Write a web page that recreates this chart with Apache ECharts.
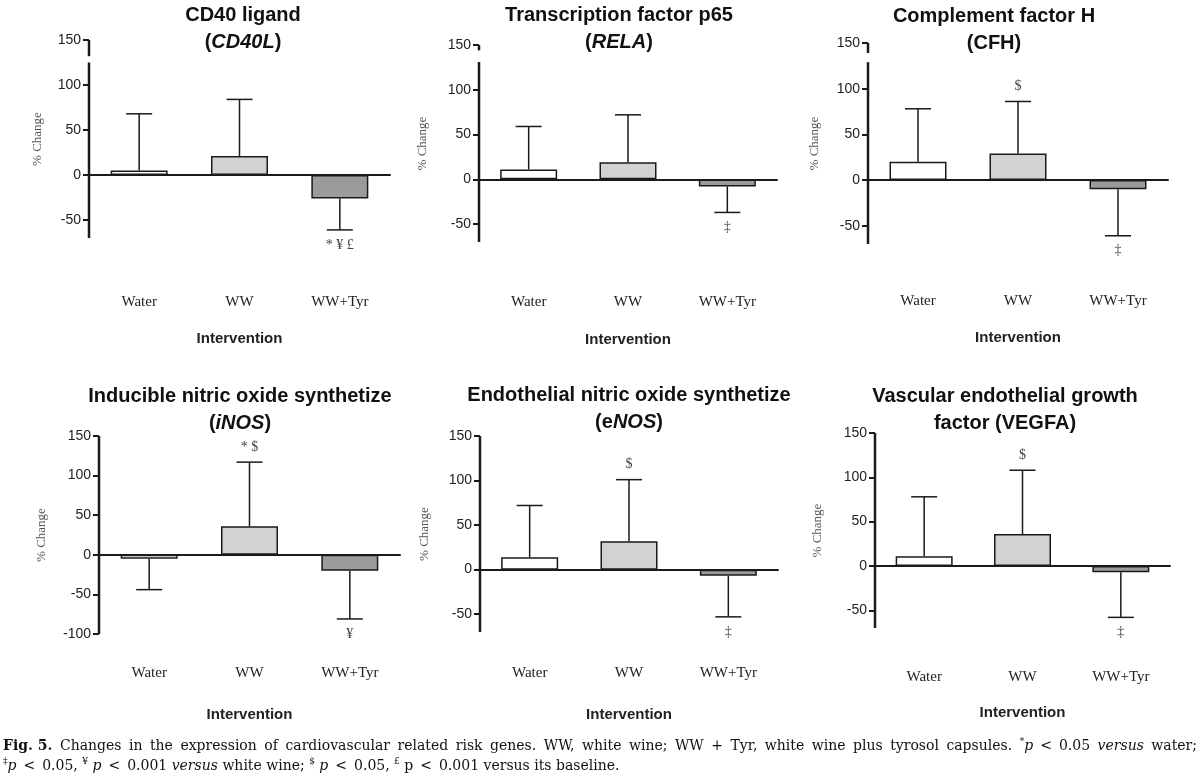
<!DOCTYPE html>
<html>
<head>
<meta charset="utf-8">
<title>Fig. 5</title>
<script src="https://cdn.jsdelivr.net/npm/echarts@6/dist/echarts.min.js"></script>
<style>
  html, body { margin: 0; padding: 0; background: #fff; }
  #chart { width: 1200px; height: 784px; }
</style>
</head>
<body>
<div id="chart"></div>
<script>
const groups = ['Water', 'WW', 'WW+Tyr']

// mean % change and the end of the one-sided error bar (Water, WW, WW+Tyr)
const cd40lMean = [5, 21, -26]
const cd40lErr = [68, 84, -61]
const cd40lNote = ['', '', '* ¥ £']

const relaMean = [11, 19, -8]
const relaErr = [59, 72, -37]
const relaNote = ['', '', '‡']

const cfhMean = [20, 29, -10]
const cfhErr = [78, 86, -61]
const cfhNote = ['', '$', '‡']

const inosMean = [-5, 36, -20]
const inosErr = [-44, 117, -81]
const inosNote = ['', '* $', '¥']

const enosMean = [14, 32, -7]
const enosErr = [72, 101, -53]
const enosNote = ['', '$', '‡']

const vegfaMean = [11, 36, -7]
const vegfaErr = [78, 108, -58]
const vegfaNote = ['', '$', '‡']

const ticksTop = [-50, 0, 50, 100, 150]
const ticksInos = [-100, -50, 0, 50, 100, 150]

const captionLine1 = '{b|Fig.\u00a05.} Changes in the expression of cardiovascular related risk genes. WW, white wine; WW + Tyr, white wine plus tyrosol capsules. {s|*}{i|p}\u2002<\u20020.05 {i|versus} water;'
const captionLine2 = '{s|‡}{i|p}\u2002<\u20020.05, {s|¥} {i|p}\u2002<\u20020.001 {i|versus} white wine; {s|$} {i|p}\u2002<\u20020.05, {s|£} p\u2002<\u20020.001 versus its baseline.'

const panels = [
  { title: 'CD40 ligand\n({i|CD40L})', mean: cd40lMean, err: cd40lErr, note: cd40lNote, min: -70, ticks: ticksTop, axisParts: [[-70, 125], [132, 150]] },
  { title: 'Transcription factor p65\n({i|RELA})', mean: relaMean, err: relaErr, note: relaNote, min: -70, ticks: ticksTop, axisParts: [[-70, 131], [144, 150]] },
  { title: 'Complement factor H\n(CFH)', mean: cfhMean, err: cfhErr, note: cfhNote, min: -70, ticks: ticksTop, axisParts: [[-70, 129], [139, 150]] },
  { title: 'Inducible nitric oxide synthetize\n({i|iNOS})', mean: inosMean, err: inosErr, note: inosNote, min: -100, ticks: ticksInos, axisParts: [[-100, 150]] },
  { title: 'Endothelial nitric oxide synthetize\n(e{i|NOS})', mean: enosMean, err: enosErr, note: enosNote, min: -70, ticks: ticksTop, axisParts: [[-70, 150]] },
  { title: 'Vascular endothelial growth\nfactor (VEGFA)', mean: vegfaMean, err: vegfaErr, note: vegfaNote, min: -70, ticks: ticksTop, axisParts: [[-70, 150]] }
]

const layout = [
  { left: 89, top: 40, width: 301, height: 198, titleX: 243, titleY: 15, labelMargin: 57, nameGap: 93, yNameGap: 45 },
  { left: 479, top: 45, width: 298, height: 197, titleX: 619, titleY: 15, labelMargin: 53, nameGap: 90, yNameGap: 50 },
  { left: 868, top: 43, width: 300, height: 201, titleX: 994, titleY: 16, labelMargin: 50, nameGap: 86, yNameGap: 47 },
  { left: 99, top: 436, width: 301, height: 198, titleX: 240, titleY: 396, labelMargin: 32, nameGap: 73, yNameGap: 51 },
  { left: 480, top: 436, width: 298, height: 196, titleX: 629, titleY: 395, labelMargin: 34, nameGap: 75, yNameGap: 49 },
  { left: 875, top: 433, width: 295, height: 195, titleX: 1005, titleY: 396, labelMargin: 42, nameGap: 77, yNameGap: 51 }
]

const barColors = ['#ffffff', '#d2d2d2', '#9b9b9b']
const ink = '#1a1a1a'
const sans = 'Liberation Sans'
const serif = 'Liberation Serif'
const captionFont = 'DejaVu Serif'

function renderAxisLine(params, api) {
  const x = params.coordSys.x
  const a = api.coord([0, api.value(0)])
  const b = api.coord([0, api.value(1)])
  return {
    type: 'line',
    shape: { x1: x, y1: a[1], x2: x, y2: b[1] },
    style: { stroke: ink, lineWidth: 2.5 }
  }
}

function makeErrorBar(notes) {
  return function (params, api) {
    const i = api.value(0)
    const base = api.coord([i, api.value(1)])
    const end = api.coord([i, api.value(2)])
    const dir = end[1] < base[1] ? -1 : 1
    const line = { stroke: ink, lineWidth: 1.5 }
    const children = [
      { type: 'line', shape: { x1: base[0], y1: base[1], x2: end[0], y2: end[1] }, style: line },
      { type: 'line', shape: { x1: end[0] - 13, y1: end[1], x2: end[0] + 13, y2: end[1] }, style: line }
    ]
    const note = notes[params.dataIndex]
    if (note) {
      children.push({
        type: 'text',
        x: end[0],
        y: end[1] + dir * 15,
        style: { text: note, align: 'center', verticalAlign: 'middle', font: '14px "' + serif + '"', fill: '#444' }
      })
    }
    return { type: 'group', children }
  }
}

const grid = []
const xAxis = []
const yAxis = []
const series = []
const graphic = []

panels.forEach(function (p, k) {
  const l = layout[k]
  grid.push({ left: l.left, top: l.top, width: l.width, height: l.height })

  // zero line with the ticks under each group
  xAxis.push({
    type: 'category', gridIndex: k, data: groups, z: 3,
    axisLine: { onZero: true, lineStyle: { color: ink, width: 2 } },
    axisTick: { alignWithLabel: true, length: 7, lineStyle: { color: ink, width: 2 } },
    axisLabel: { show: false }
  })
  // group labels and axis title at the bottom
  xAxis.push({
    type: 'category', gridIndex: k, data: groups, position: 'bottom',
    axisLine: { show: false, onZero: false },
    axisTick: { show: false },
    axisLabel: { margin: l.labelMargin, fontFamily: serif, fontSize: 15, color: '#222' },
    name: 'Intervention', nameLocation: 'middle', nameGap: l.nameGap,
    nameTextStyle: { fontFamily: sans, fontSize: 15, fontWeight: 'bold', color: '#222' }
  })
  yAxis.push({
    type: 'value', gridIndex: k, min: p.min, max: 150,
    axisLine: { show: false },
    axisTick: { show: true, customValues: p.ticks, length: 6, lineStyle: { color: ink, width: 2 } },
    axisLabel: { customValues: p.ticks, margin: 8, fontFamily: sans, fontSize: 14, color: '#222' },
    splitLine: { show: false },
    name: '% Change', nameLocation: 'middle', nameRotate: 90, nameGap: l.yNameGap,
    nameTextStyle: { fontFamily: serif, fontSize: 13, color: '#555' }
  })

  series.push({
    type: 'bar', xAxisIndex: 2 * k, yAxisIndex: k, barWidth: 57, z: 2,
    itemStyle: { borderColor: ink, borderWidth: 1.5 },
    data: p.mean.map(function (v, i) { return { value: v, itemStyle: { color: barColors[i] } } })
  })
  series.push({
    type: 'custom', xAxisIndex: 2 * k, yAxisIndex: k, z: 4,
    renderItem: makeErrorBar(p.note),
    encode: { x: 0, y: [1, 2] },
    data: p.mean.map(function (v, i) { return [i, v, p.err[i]] })
  })
  series.push({
    type: 'custom', xAxisIndex: 2 * k, yAxisIndex: k, z: 4,
    renderItem: renderAxisLine,
    encode: { x: 2, y: [0, 1] },
    data: p.axisParts.map(function (s) { return [s[0], s[1], 0] })
  })

  const titleFont = { fontFamily: sans, fontSize: 20, fontWeight: 'bold', lineHeight: 27, fill: '#111' }
  graphic.push({
    type: 'text', x: l.titleX, y: l.titleY - 13.5,
    style: Object.assign({
      text: p.title, align: 'center', verticalAlign: 'top',
      rich: { i: Object.assign({ fontStyle: 'italic' }, titleFont) }
    }, titleFont)
  })
})

// caption: split into words, measure, and spread the first line to full width
const captionRich = {
  n: { fontFamily: captionFont, fontSize: 14, lineHeight: 18, fill: '#111' },
  b: { fontFamily: captionFont, fontSize: 14, fontWeight: 'bold', lineHeight: 18, fill: '#111' },
  i: { fontFamily: captionFont, fontSize: 14, fontStyle: 'italic', lineHeight: 18, fill: '#111' },
  s: { fontFamily: captionFont, fontSize: 9, lineHeight: 18, verticalAlign: 'top', fill: '#111' }
}
const measureCtx = document.createElement('canvas').getContext('2d')

function cssFont(st) {
  return (st.fontStyle || 'normal') + ' ' + (st.fontWeight || 'normal') + ' ' + st.fontSize + 'px "' + st.fontFamily + '"'
}

function wordParts(word) {
  const parts = []
  const re = /\{(\w)\|([^}]*)\}|([^{]+)/g
  let m
  while ((m = re.exec(word))) {
    parts.push(m[1] ? { key: m[1], text: m[2] } : { key: 'n', text: m[3] })
  }
  return parts
}

function layoutLine(line, x0, x1, y, justify) {
  const words = line.split(' ').map(function (w) {
    const parts = wordParts(w)
    let width = 0
    parts.forEach(function (pt) {
      measureCtx.font = cssFont(captionRich[pt.key])
      width += measureCtx.measureText(pt.text).width
    })
    return { text: parts.map(function (pt) { return '{' + pt.key + '|' + pt.text + '}' }).join(''), width: width }
  })
  measureCtx.font = cssFont(captionRich.n)
  let gap = measureCtx.measureText(' ').width
  if (justify) {
    const total = words.reduce(function (s, w) { return s + w.width }, 0)
    gap = (x1 - x0 - total) / (words.length - 1)
  }
  let x = x0
  words.forEach(function (w) {
    graphic.push({
      type: 'text', x: x, y: y,
      style: { text: w.text, align: 'left', verticalAlign: 'middle', rich: captionRich }
    })
    x += w.width + gap
  })
}

layoutLine(captionLine1, 3, 1197, 746, true)
layoutLine(captionLine2, 3, 1197, 766, false)

const chart = echarts.init(document.getElementById('chart'))
chart.setOption({
  animation: false,
  backgroundColor: '#fff',
  grid: grid,
  xAxis: xAxis,
  yAxis: yAxis,
  series: series,
  graphic: graphic
})
</script>
</body>
</html>
